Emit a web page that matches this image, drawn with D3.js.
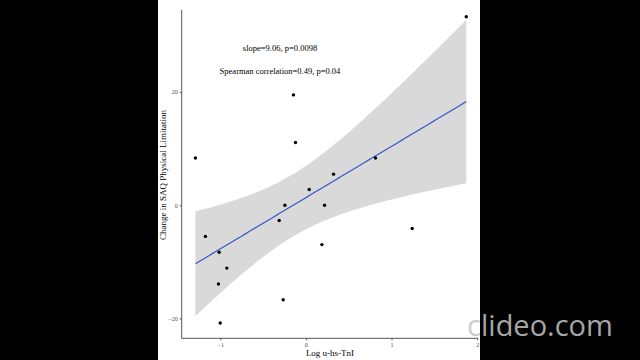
<!DOCTYPE html>
<html><head><meta charset="utf-8">
<script src="https://cdn.jsdelivr.net/npm/d3@7"></script>
<style>body{margin:0;background:#000}svg{display:block}</style>
</head><body>
<svg id="c" width="640" height="360"></svg>
<script>
const logTnI = [1.873,-0.145,-1.29,-0.121,0.813,0.323,0.039,-0.245,0.218,-0.312,1.242,-1.173,0.187,-1.013,-0.923,-1.021,-0.265,-1.0];
const saqChange = [33.3,19.5,8.35,11.1,8.35,5.5,2.8,0,0,-2.7,-4.1,-5.5,-6.95,-8.3,-11.1,-13.9,-16.7,-20.8];
const xTicks = [-1,0,1,2];
const yTicks = [-20,0,20];
const annotations = ["slope=9.06, p=0.0098","Spearman correlation=0.49, p=0.04"];
const xTitle = "Log u-hs-TnI";
const yTitle = "Change in SAQ Physical Limitation";

const svg = d3.select("#c");
svg.append("rect").attr("x",0).attr("y",0).attr("width",640).attr("height",360).attr("fill","#000");
svg.append("rect").attr("x",158).attr("y",0).attr("width",322).attr("height",360).attr("fill","#fff");

const x = d3.scaleLinear().domain([-1.45,2.01]).range([181.7,478]);
const y = d3.scaleLinear().domain([-23.5,34.5]).range([338.3,10]);

// linear fit + 95% CI (as geom_smooth(method="lm"))
const n = logTnI.length;
const mx = d3.mean(logTnI), my = d3.mean(saqChange);
let sxx=0,sxy=0;
for(let i=0;i<n;i++){sxx+=(logTnI[i]-mx)**2;sxy+=(logTnI[i]-mx)*(saqChange[i]-my);}
const b = sxy/sxx, a = my-b*mx;
let sse=0; for(let i=0;i<n;i++){sse+=(saqChange[i]-a-b*logTnI[i])**2;}
const s = Math.sqrt(sse/(n-2));
const tq = 2.1199; // t(0.975, df=16)
const [xmin,xmax] = d3.extent(logTnI);
const grid = d3.range(0,81).map(k=>xmin+(xmax-xmin)*k/80);
const band = grid.map(g=>{const f=a+b*g;const se=s*Math.sqrt(1/n+(g-mx)**2/sxx);return {x:g,f,lo:f-tq*se,hi:f+tq*se};});

svg.append("path").datum(band)
  .attr("d",d3.area().x(d=>x(d.x)).y0(d=>y(d.lo)).y1(d=>y(d.hi)))
  .attr("fill","#d9d9d9");
svg.append("path").datum(band)
  .attr("d",d3.line().x(d=>x(d.x)).y(d=>y(d.f)))
  .attr("fill","none").attr("stroke","#3557CC").attr("stroke-width",1.2);

svg.selectAll("circle.pt").data(logTnI).enter().append("circle")
  .attr("cx",d=>x(d)).attr("cy",(d,i)=>y(saqChange[i])).attr("r",1.7).attr("fill","#000");

// axes
const axCol = "#555";
svg.append("line").attr("x1",x.range()[0]).attr("x2",x.range()[0]).attr("y1",y.range()[1]).attr("y2",y.range()[0]).attr("stroke",axCol).attr("stroke-width",1);
svg.append("line").attr("x1",x.range()[0]).attr("x2",x.range()[1]).attr("y1",y.range()[0]).attr("y2",y.range()[0]).attr("stroke",axCol).attr("stroke-width",1);

const xa = svg.append("g").attr("transform",`translate(0,${y.range()[0]})`)
  .call(d3.axisBottom(x).tickValues(xTicks).tickSize(2).tickPadding(2).tickFormat(d3.format("d")));
const ya = svg.append("g").attr("transform",`translate(${x.range()[0]},0)`)
  .call(d3.axisLeft(y).tickValues(yTicks).tickSize(2).tickPadding(2).tickFormat(d3.format("d")));
[xa,ya].forEach(g=>{
  g.select(".domain").remove();
  g.selectAll("line").attr("stroke",axCol);
  g.selectAll("text").attr("fill","#4d4d4d").style("font-family","Liberation Serif").style("font-size","6px");
});

const serif = "Liberation Serif";
svg.append("text").attr("x",330).attr("y",356).attr("text-anchor","middle")
  .style("font-family",serif).style("font-size","9px").attr("fill","#000").text(xTitle);
svg.append("text").attr("transform","translate(166,175) rotate(-90)").attr("text-anchor","middle")
  .style("font-family",serif).style("font-size","9px").attr("fill","#000").text(yTitle);

svg.selectAll("text.ann").data(annotations).enter().append("text")
  .attr("x",280).attr("y",(d,i)=>[50.5,73.5][i]).attr("text-anchor","middle")
  .style("font-family",serif).style("font-size","8.5px").attr("fill","#000").text(d=>d);

// watermark
svg.append("text").attr("x",540).attr("y",336).attr("text-anchor","middle")
  .style("font-family","Open Sans").style("font-size","29px").attr("fill","#c4c4c4").attr("opacity",0.85).text("clideo.com");
</script>
</body></html>
